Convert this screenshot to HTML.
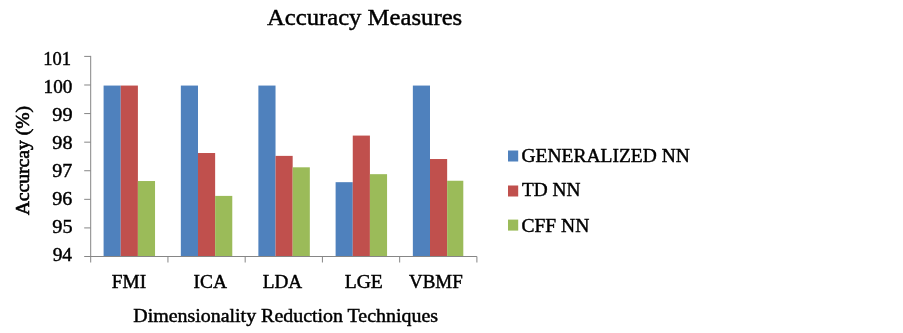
<!DOCTYPE html><html><head><meta charset="utf-8"><style>html,body{margin:0;padding:0;background:#fff}svg{display:block}text{font-family:"Liberation Serif",serif;fill:#000;stroke:#000;stroke-width:0.45}</style></head><body>
<svg width="903" height="333" viewBox="0 0 903 333">
<rect width="903" height="333" fill="#fff"/>
<rect x="103.59" y="85.56" width="17.15" height="170.94" fill="#4F81BD"/>
<rect x="120.75" y="85.56" width="17.15" height="170.94" fill="#C0504D"/>
<rect x="137.89" y="181.03" width="17.15" height="75.47" fill="#9BBB59"/>
<rect x="180.84" y="85.56" width="17.15" height="170.94" fill="#4F81BD"/>
<rect x="197.99" y="153.02" width="17.15" height="103.48" fill="#C0504D"/>
<rect x="215.13" y="195.90" width="17.15" height="60.60" fill="#9BBB59"/>
<rect x="258.38" y="85.56" width="17.15" height="170.94" fill="#4F81BD"/>
<rect x="275.52" y="155.88" width="17.15" height="100.62" fill="#C0504D"/>
<rect x="292.68" y="167.31" width="17.15" height="89.19" fill="#9BBB59"/>
<rect x="335.61" y="182.18" width="17.15" height="74.32" fill="#4F81BD"/>
<rect x="352.76" y="135.58" width="17.15" height="120.92" fill="#C0504D"/>
<rect x="369.91" y="174.17" width="17.15" height="82.33" fill="#9BBB59"/>
<rect x="412.85" y="85.56" width="17.15" height="170.94" fill="#4F81BD"/>
<rect x="430.00" y="159.02" width="17.15" height="97.48" fill="#C0504D"/>
<rect x="447.15" y="180.75" width="16.15" height="75.75" fill="#9BBB59"/>
<g stroke="#868686" stroke-width="1" fill="none">
<line x1="90.7" y1="55.9" x2="90.7" y2="262.5"/>
<line x1="84.2" y1="256.5" x2="476.9" y2="256.5"/>
<line x1="84.2" y1="227.91" x2="90.7" y2="227.91"/>
<line x1="84.2" y1="199.33" x2="90.7" y2="199.33"/>
<line x1="84.2" y1="170.74" x2="90.7" y2="170.74"/>
<line x1="84.2" y1="142.16" x2="90.7" y2="142.16"/>
<line x1="84.2" y1="113.57" x2="90.7" y2="113.57"/>
<line x1="84.2" y1="84.99" x2="90.7" y2="84.99"/>
<line x1="84.2" y1="56.40" x2="90.7" y2="56.40"/>
<line x1="167.94" y1="256.5" x2="167.94" y2="262.5"/>
<line x1="245.18" y1="256.5" x2="245.18" y2="262.5"/>
<line x1="322.42" y1="256.5" x2="322.42" y2="262.5"/>
<line x1="399.66" y1="256.5" x2="399.66" y2="262.5"/>
<line x1="476.90" y1="256.5" x2="476.90" y2="262.5"/>
</g>
<text id="title" x="266.91" y="24.80" font-size="24.1" textLength="195.29" lengthAdjust="spacingAndGlyphs">Accuracy Measures</text>
<text id="xt" x="133.30" y="322.10" font-size="18.8" textLength="304.72" lengthAdjust="spacingAndGlyphs">Dimensionality Reduction Techniques</text>
<text id="c0" x="111.76" y="287.70" font-size="18.8" textLength="34.31" lengthAdjust="spacingAndGlyphs">FMI</text>
<text id="c1" x="193.58" y="287.70" font-size="18.8" textLength="33.37" lengthAdjust="spacingAndGlyphs">ICA</text>
<text id="c2" x="262.69" y="287.70" font-size="18.8" textLength="39.46" lengthAdjust="spacingAndGlyphs">LDA</text>
<text id="c3" x="344.70" y="287.70" font-size="18.8" textLength="38.17" lengthAdjust="spacingAndGlyphs">LGE</text>
<text id="c4" x="409.01" y="287.70" font-size="18.8" textLength="53.69" lengthAdjust="spacingAndGlyphs">VBMF</text>
<text id="l0" x="521.53" y="161.80" font-size="19.2" textLength="168.36" lengthAdjust="spacingAndGlyphs">GENERALIZED NN</text>
<text id="l1" x="521.91" y="196.40" font-size="19.2" textLength="58.42" lengthAdjust="spacingAndGlyphs">TD NN</text>
<text id="l2" x="521.51" y="231.60" font-size="19.2" textLength="67.73" lengthAdjust="spacingAndGlyphs">CFF NN</text>
<text id="y0" x="43.20" y="64.70" font-size="19.8" textLength="27.81" lengthAdjust="spacingAndGlyphs">101</text>
<text id="y1" x="43.60" y="92.75" font-size="19.8" textLength="28.72" lengthAdjust="spacingAndGlyphs">100</text>
<text id="y2" x="52.32" y="120.80" font-size="19.8" textLength="20.20" lengthAdjust="spacingAndGlyphs">99</text>
<text id="y3" x="52.32" y="148.85" font-size="19.8" textLength="20.16" lengthAdjust="spacingAndGlyphs">98</text>
<text id="y4" x="52.35" y="176.90" font-size="19.8" textLength="19.95" lengthAdjust="spacingAndGlyphs">97</text>
<text id="y5" x="52.34" y="204.95" font-size="19.8" textLength="20.06" lengthAdjust="spacingAndGlyphs">96</text>
<text id="y6" x="52.31" y="233.00" font-size="19.8" textLength="20.25" lengthAdjust="spacingAndGlyphs">95</text>
<text id="y7" x="52.67" y="261.05" font-size="19.8" textLength="19.43" lengthAdjust="spacingAndGlyphs">94</text>
<text id="yt" transform="translate(29.4,215.32) rotate(-90)" font-size="19.5" textLength="109.44" lengthAdjust="spacingAndGlyphs" style="stroke-width:0.6">Accurcay (%)</text>
<rect x="508.0" y="150.50" width="10.2" height="11.0" fill="#4F81BD"/>
<rect x="508.0" y="185.50" width="10.2" height="11.0" fill="#C0504D"/>
<rect x="508.0" y="219.60" width="10.2" height="11.0" fill="#9BBB59"/>
</svg></body></html>
